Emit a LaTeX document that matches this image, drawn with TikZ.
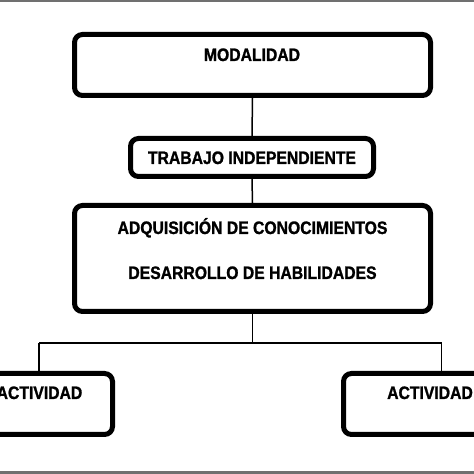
\documentclass[tikz,border=0pt]{standalone}
\usepackage{fontspec}
\newfontfamily\narfont{Liberation Sans}[FakeStretch=0.874,BoldFeatures={FakeBold=1.2}]
\begin{document}
\begin{tikzpicture}[x=1pt,y=1pt,
  boxstyle/.style={draw=black,line width=5pt,rounded corners=8pt,inner sep=0pt,fill=none},
  lbl/.style={inner sep=0pt,anchor=base,font=\narfont\bfseries\fontsize{18}{20}\selectfont},
  conn/.style={draw=black,line width=1.5pt},
  band/.style={fill=black!56,draw=none}]
\useasboundingbox (0,0) rectangle (474,474);
\clip (0,0) rectangle (474,474);
\fill[white] (0,0) rectangle (474,474);
\fill[band] (0,471.5) rectangle (474,474);
\fill[band] (0,0) rectangle (474,2.5);
% boxes
\node[boxstyle,minimum width=356pt,minimum height=61pt] (mod) at (252.5,409) {};
\node[boxstyle,minimum width=243pt,minimum height=38pt] (tra) at (252,316.5) {};
\node[boxstyle,minimum width=356pt,minimum height=106pt] (adq) at (252.5,215.5) {};
\node[boxstyle,minimum width=152.5pt,minimum height=61pt] (actl) at (36.25,70) {};
\node[boxstyle,minimum width=176.5pt,minimum height=61pt] (actr) at (431.75,70) {};
% texts
\node[lbl] (modt) at (252,413) {MODALIDAD};
\node[lbl] (trat) at (252,310) {TRABAJO INDEPENDIENTE};
\node[lbl] (adqt) at (252.5,240) {ADQUISICIÓN DE CONOCIMIENTOS};
\node[lbl] (dest) at (252.5,195) {DESARROLLO DE HABILIDADES};
\node[lbl,anchor=base east] (actlt) at (82.5,75) {ACTIVIDAD};
\node[lbl,anchor=base west] (actrt) at (387,75) {ACTIVIDAD};
% connectors
\coordinate (jl) at (39,131);
\coordinate (jr) at (441.5,131);
\draw[conn] (mod.south) -- (tra.north);
\draw[conn] (tra.south) -- (adq.north);
\draw[conn] (adq.south) -- (adq.south |- jl);
\draw[conn,line width=1.3pt] (jl) -- (jr);
\draw[conn] (jl) -- (jl |- actl.north);
\draw[conn] (jr) -- (jr |- actr.north);
\end{tikzpicture}
\end{document}
